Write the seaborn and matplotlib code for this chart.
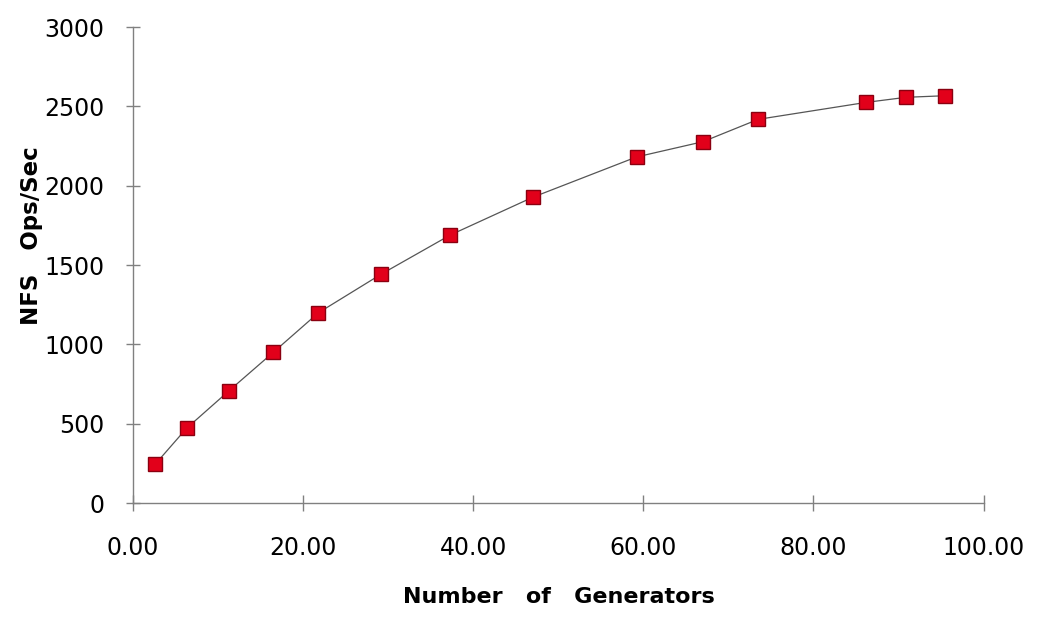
import pandas as pd
import matplotlib
matplotlib.use("Agg")
import matplotlib.pyplot as plt
import seaborn as sns

# data
generators = [2.6, 6.3, 11.3, 16.5, 21.8, 29.2, 37.3, 47.0, 59.2, 67.0, 73.5, 86.2, 90.9, 95.5]
ops_per_sec = [244, 471, 708, 950, 1199, 1443, 1689, 1927, 2181, 2277, 2418, 2525, 2557, 2567]
x_ticks = [0, 20, 40, 60, 80, 100]
y_ticks = [0, 500, 1000, 1500, 2000, 2500, 3000]

df = pd.DataFrame({"gen": generators, "ops": ops_per_sec})

sns.set_style("ticks")
plt.rcParams["font.family"] = ["DejaVu Sans"]

fig = plt.figure(figsize=(10.4, 6.24), dpi=100)
ax = fig.add_axes([0.1279, 0.1939, 0.8178, 0.7628])

sns.lineplot(data=df, x="gen", y="ops", ax=ax, color="#555555", linewidth=0.9,
             marker="s", markersize=10.5, markerfacecolor="#e2001a",
             markeredgecolor="#8a0010", markeredgewidth=1.0)

ax.set_xlim(0, 100)
ax.set_ylim(0, 3000)
ax.set_xticks(x_ticks)
ax.set_xticklabels([f"{v:.2f}" for v in x_ticks])
ax.set_yticks(y_ticks)
ax.set_yticklabels([str(v) for v in y_ticks])

sns.despine(ax=ax)
for s in ["left", "bottom"]:
    ax.spines[s].set_color("#808080")
    ax.spines[s].set_linewidth(1.0)

ax.tick_params(axis="x", direction="inout", length=11, width=1, color="#808080",
               pad=18, labelsize=17, labelcolor="black")
ax.tick_params(axis="y", direction="inout", length=9.5, width=1, color="#808080",
               pad=16, labelsize=17, labelcolor="black")

ax.set_xlabel("Number   of   Generators", fontsize=16, fontweight="bold", color="black")
ax.set_ylabel("NFS   Ops/Sec", fontsize=16.5, fontweight="bold", color="black")
ax.xaxis.set_label_coords(0.501, -0.197)
ax.yaxis.set_label_coords(-0.119, 0.561)
ax.xaxis.label.set_verticalalignment("center")
ax.yaxis.label.set_verticalalignment("center")

fig.savefig("out.png", dpi=100)
